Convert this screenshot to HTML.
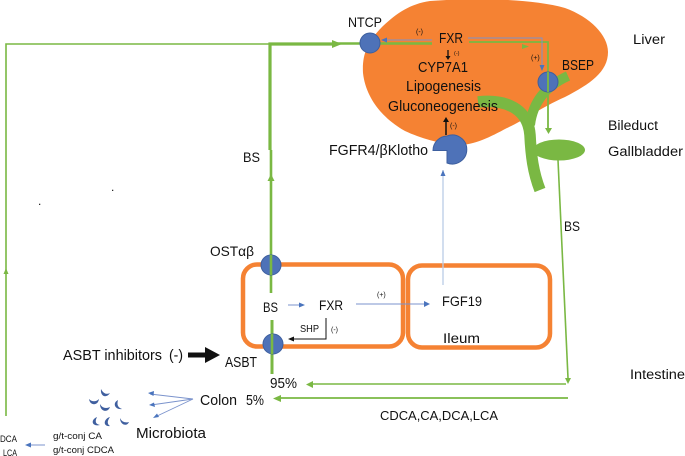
<!DOCTYPE html>
<html><head><meta charset="utf-8">
<style>
html,body{margin:0;padding:0;background:#fff;width:685px;height:456px;overflow:hidden}
svg{display:block;font-family:"Liberation Sans",sans-serif;fill:#111}
text{font-size:13px}
.s{font-size:7px}
</style></head><body>
<svg width="685" height="456" viewBox="0 0 685 456" xmlns="http://www.w3.org/2000/svg">
<!-- Liver -->
<path d="M430 1 C470 -2 530 -2 565 8 C590 17 608 35 608 52 C608 72 590 84 565 97 C540 108 525 120 507 128 C490 137 475 145 458 145 C440 144 420 138 405 131 C385 120 366 100 363 73 C362 55 367 42 383 26 C397 13 410 4 430 1Z" fill="#f58233"/>
<!-- Bile duct -->
<path d="M478 102 C505 99 528 108 530 135 C531 155 533 172 540 190" fill="none" stroke="#7ab843" stroke-width="11.500"/>
<path d="M568 76 C548 85 533 100 530 125" fill="none" stroke="#7ab843" stroke-width="10"/>
<ellipse cx="559" cy="150" rx="26" ry="10.500" fill="#7ab843"/>
<!-- Ileum boxes -->
<rect x="243" y="264.500" width="160" height="82" rx="14" fill="none" stroke="#f58233" stroke-width="4.500"/>
<rect x="408" y="265.500" width="142" height="82" rx="14" fill="none" stroke="#f58233" stroke-width="4.500"/>
<!-- Green lines -->
<g fill="none" stroke="#7ab843">
<path d="M271 293 V150" stroke-width="2.600"/>
<path d="M270 150 V44 H332" stroke-width="3.200"/>
<path d="M332 43.500 H432" stroke-width="2.400"/>
<path d="M6 416 V44 H270" stroke-width="1.600"/>
<path d="M272 320 V374" stroke-width="3"/>
<path d="M469 42 H548 V128" stroke-width="1.800"/>
<path d="M558 160 L568 378" stroke-width="1.600"/>
<path d="M566 384 H310" stroke-width="1.600"/>
<path d="M568 398 H280" stroke-width="1.800"/>
</g>
<g fill="#7ab843">
<path d="M332 40 L342 44 L332 48Z"/>
<path d="M6 268 L3.500 274 H8.500Z"/>
<path d="M522 44 L529 46.500 L522 49Z"/>
<path d="M545 128 L552 128 L548.500 134Z"/>
<path d="M565 378 L571 378 L568 384Z"/>
<path d="M271 174 L267.500 181 H274.500Z"/>
<path d="M306 384.500 L313 381 V388Z"/>
<path d="M273 398.500 L281 395 V402Z"/>
</g>
<!-- Blue thin arrows -->
<g fill="none" stroke="#7b93cc" stroke-width="1">
<path d="M432 40 H384"/>
<path d="M468 38 H542 V70"/>
<path d="M288 305 H303"/>
<path d="M356 304 H428"/>
</g>
<path d="M443 285 V170" fill="none" stroke="#b9cbe6" stroke-width="1.300"/>
<g fill="#4a74bd">
<path d="M381 40 L387 37.500 V42.500Z"/>
<path d="M542 71 L539.500 65 H544.500Z"/>
<path d="M305 305 L299 302.500 V307.500Z"/>
<path d="M430 304 L424 301 V307Z"/>
<path d="M443 170 L440.500 176 H445.500Z"/>
</g>
<!-- Colon arrows -->
<g fill="none" stroke="#7b93cc" stroke-width="0.900">
<path d="M193 399 L150 394"/>
<path d="M193 399 L151 405"/>
<path d="M193 399 L155 417"/>
<path d="M45 445 H27"/>
</g>
<g fill="#4a74bd">
<path d="M148 393 L154 391 L153.500 396Z"/>
<path d="M149 405 L154 402.500 L155 407Z"/>
<path d="M153 418 L157 413.500 L159 417Z"/>
<path d="M25 445 L31 442.500 V447.500Z"/>
</g>
<!-- Black arrows -->
<g fill="none" stroke="#111">
<path d="M448 50 V56" stroke-width="1.300"/>
<path d="M446 135 V121" stroke-width="1.500"/>
<path d="M326 318 V339 H292" stroke-width="1"/>
<path d="M188 355 H206" stroke-width="5"/>
</g>
<g fill="#111">
<path d="M445.500 56 H450.500 L448 60Z"/>
<path d="M443 122 H449 L446 117Z"/>
<path d="M288 339 L294 336.500 V341.500Z"/>
<path d="M220 355 L205 347 V363Z"/>
</g>
<!-- Blue transporters -->
<g fill="#4e72b8" stroke="#3d5f9f" stroke-width="1">
<circle cx="370" cy="43" r="10"/>
<circle cx="548" cy="82" r="10"/>
<circle cx="271" cy="265" r="10"/>
<circle cx="273" cy="344" r="10"/>
<path d="M447 136 A14.500 14.500 0 1 1 447 163 V150.500 H433 A14.500 14.500 0 0 1 447 136Z"/>
</g>
<path d="M271 255 V275" stroke="#7ab843" stroke-width="2.600"/>
<path d="M272 334 V354" stroke="#7ab843" stroke-width="2.600"/>
<path d="M548 72 V92" stroke="#7ab843" stroke-width="1.800"/>
<!-- Microbiota -->
<g fill="#3f5f9f">
<path d="M101 389 C100 396 106 399 110 393 C106 395 103 393 101 389Z"/>
<path d="M89 399 C90 406 98 406 99 399 C96 402 92 402 89 399Z"/>
<path d="M100 404 C100 412 108 413 110 407 C106 409 102 408 100 404Z"/>
<path d="M118 400 C112 403 115 410 122 409 C117 407 117 404 118 400Z"/>
<path d="M97 417 C90 420 92 427 100 425 C95 424 95 421 97 417Z"/>
<path d="M110 417 C103 419 103 427 110 426 C107 424 107 421 110 417Z"/>
<path d="M120 418 C120 425 127 427 129 422 C125 423 122 422 120 418Z"/>
</g>
<!-- Labels -->
<text x="348" y="27" style="font-size:14px" textLength="34" lengthAdjust="spacingAndGlyphs">NTCP</text>
<text x="439" y="43" style="font-size:14.500px" textLength="24" lengthAdjust="spacingAndGlyphs">FXR</text>
<text x="418" y="72" style="font-size:14.500px" textLength="50" lengthAdjust="spacingAndGlyphs">CYP7A1</text>
<text x="406" y="91" style="font-size:14.500px" textLength="75" lengthAdjust="spacingAndGlyphs">Lipogenesis</text>
<text x="388" y="111" style="font-size:14.500px" textLength="110" lengthAdjust="spacingAndGlyphs">Gluconeogenesis</text>
<text x="329" y="155" style="font-size:14.500px" textLength="99" lengthAdjust="spacingAndGlyphs">FGFR4/βKlotho</text>
<text x="562" y="70" style="font-size:14.500px" textLength="32" lengthAdjust="spacingAndGlyphs">BSEP</text>
<text x="633" y="44" style="font-size:13.500px" textLength="32" lengthAdjust="spacingAndGlyphs">Liver</text>
<text x="608" y="130" style="font-size:13.500px" textLength="50" lengthAdjust="spacingAndGlyphs">Bileduct</text>
<text x="608" y="156" style="font-size:13.500px" textLength="75" lengthAdjust="spacingAndGlyphs">Gallbladder</text>
<text x="564" y="231" style="font-size:14px" textLength="16" lengthAdjust="spacingAndGlyphs">BS</text>
<text x="243" y="162" style="font-size:14px" textLength="17" lengthAdjust="spacingAndGlyphs">BS</text>
<text x="210" y="256" style="font-size:14px" textLength="44" lengthAdjust="spacingAndGlyphs">OSTαβ</text>
<text x="263" y="312" style="font-size:14px" textLength="15" lengthAdjust="spacingAndGlyphs">BS</text>
<text x="319" y="310" style="font-size:14px" textLength="24" lengthAdjust="spacingAndGlyphs">FXR</text>
<text x="442" y="306" style="font-size:14px" textLength="40" lengthAdjust="spacingAndGlyphs">FGF19</text>
<text x="443" y="343" style="font-size:14px" textLength="37" lengthAdjust="spacingAndGlyphs">Ileum</text>
<text x="300" y="332" style="font-size:10.500px" textLength="19" lengthAdjust="spacingAndGlyphs">SHP</text>
<text x="63" y="360" style="font-size:14.500px" textLength="99" lengthAdjust="spacingAndGlyphs">ASBT inhibitors</text>
<text x="169" y="360" style="font-size:14.500px" textLength="14" lengthAdjust="spacingAndGlyphs">(-)</text>
<text x="225" y="367" style="font-size:14.500px" textLength="32" lengthAdjust="spacingAndGlyphs">ASBT</text>
<text x="270" y="388" style="font-size:14.500px" textLength="27" lengthAdjust="spacingAndGlyphs">95%</text>
<text x="200" y="405" style="font-size:14.500px" textLength="37" lengthAdjust="spacingAndGlyphs">Colon</text>
<text x="246" y="405" style="font-size:14.500px" textLength="18" lengthAdjust="spacingAndGlyphs">5%</text>
<text x="136" y="438" style="font-size:14.500px" textLength="70" lengthAdjust="spacingAndGlyphs">Microbiota</text>
<text x="630" y="379" style="font-size:13.500px" textLength="55" lengthAdjust="spacingAndGlyphs">Intestine</text>
<text x="380" y="420" style="font-size:13px" textLength="118" lengthAdjust="spacingAndGlyphs">CDCA,CA,DCA,LCA</text>
<text x="53" y="439" style="font-size:9px" textLength="49" lengthAdjust="spacingAndGlyphs">g/t-conj CA</text>
<text x="53" y="453" style="font-size:9px" textLength="61" lengthAdjust="spacingAndGlyphs">g/t-conj CDCA</text>
<text x="0" y="442" style="font-size:9px" textLength="17" lengthAdjust="spacingAndGlyphs">DCA</text>
<text x="3" y="456" style="font-size:9px" textLength="14" lengthAdjust="spacingAndGlyphs">LCA</text>
<text x="38" y="205" style="font-size:12px">.</text>
<text x="111" y="191" style="font-size:12px">.</text>
<text class="s" x="416" y="34">(-)</text>
<text class="s" x="454" y="55" style="font-size:5.500px">(-)</text>
<text class="s" x="531" y="60">(+)</text>
<text class="s" x="450" y="128">(-)</text>
<text class="s" x="377" y="297">(+)</text>
<text class="s" x="331" y="332">(-)</text>
</svg>
</body></html>
